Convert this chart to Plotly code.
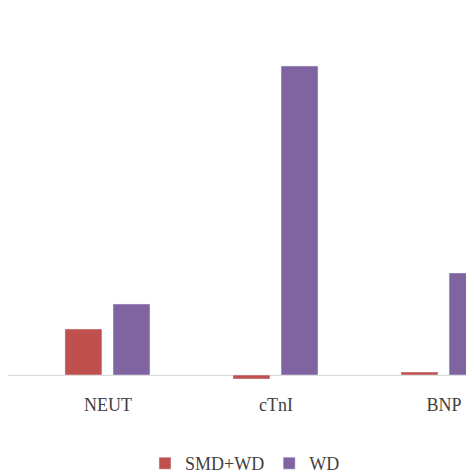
import plotly.graph_objects as go

categories = ["NEUT", "cTnI", "BNP"]
smd_wd = [46, -4, 3]
wd = [71, 309, 102]

fig = go.Figure()
fig.add_bar(x=[0, 1, 2], y=smd_wd, name="SMD+WD", marker_color="#C0504D",
            width=0.22, offset=-0.256)
fig.add_bar(x=[0, 1, 2], y=wd, name="WD", marker_color="#8064A2",
            width=0.22, offset=0.03)
fig.update_layout(
    width=474, height=474, margin=dict(l=0, r=0, t=0, b=94, pad=0, autoexpand=False),
    plot_bgcolor="white", paper_bgcolor="white",
    font=dict(family="Liberation Serif", size=18, color="#404040"),
    showlegend=True,
    legend=dict(orientation="h", x=0.5, xanchor="center", yref="container", y=0.0,
                yanchor="bottom", font=dict(size=18), itemwidth=30),
    xaxis=dict(range=[-0.595, 2.226], tickvals=[0, 1, 2], ticktext=categories,
               showgrid=False, showline=False, zeroline=False, automargin=False,
               ticklabelstandoff=4),
    yaxis=dict(range=[-13, 367], visible=True, showticklabels=False, showgrid=False,
               zeroline=True, zerolinecolor="#D9D9D9", zerolinewidth=1, automargin=False),
)
fig.write_html("out.html")
